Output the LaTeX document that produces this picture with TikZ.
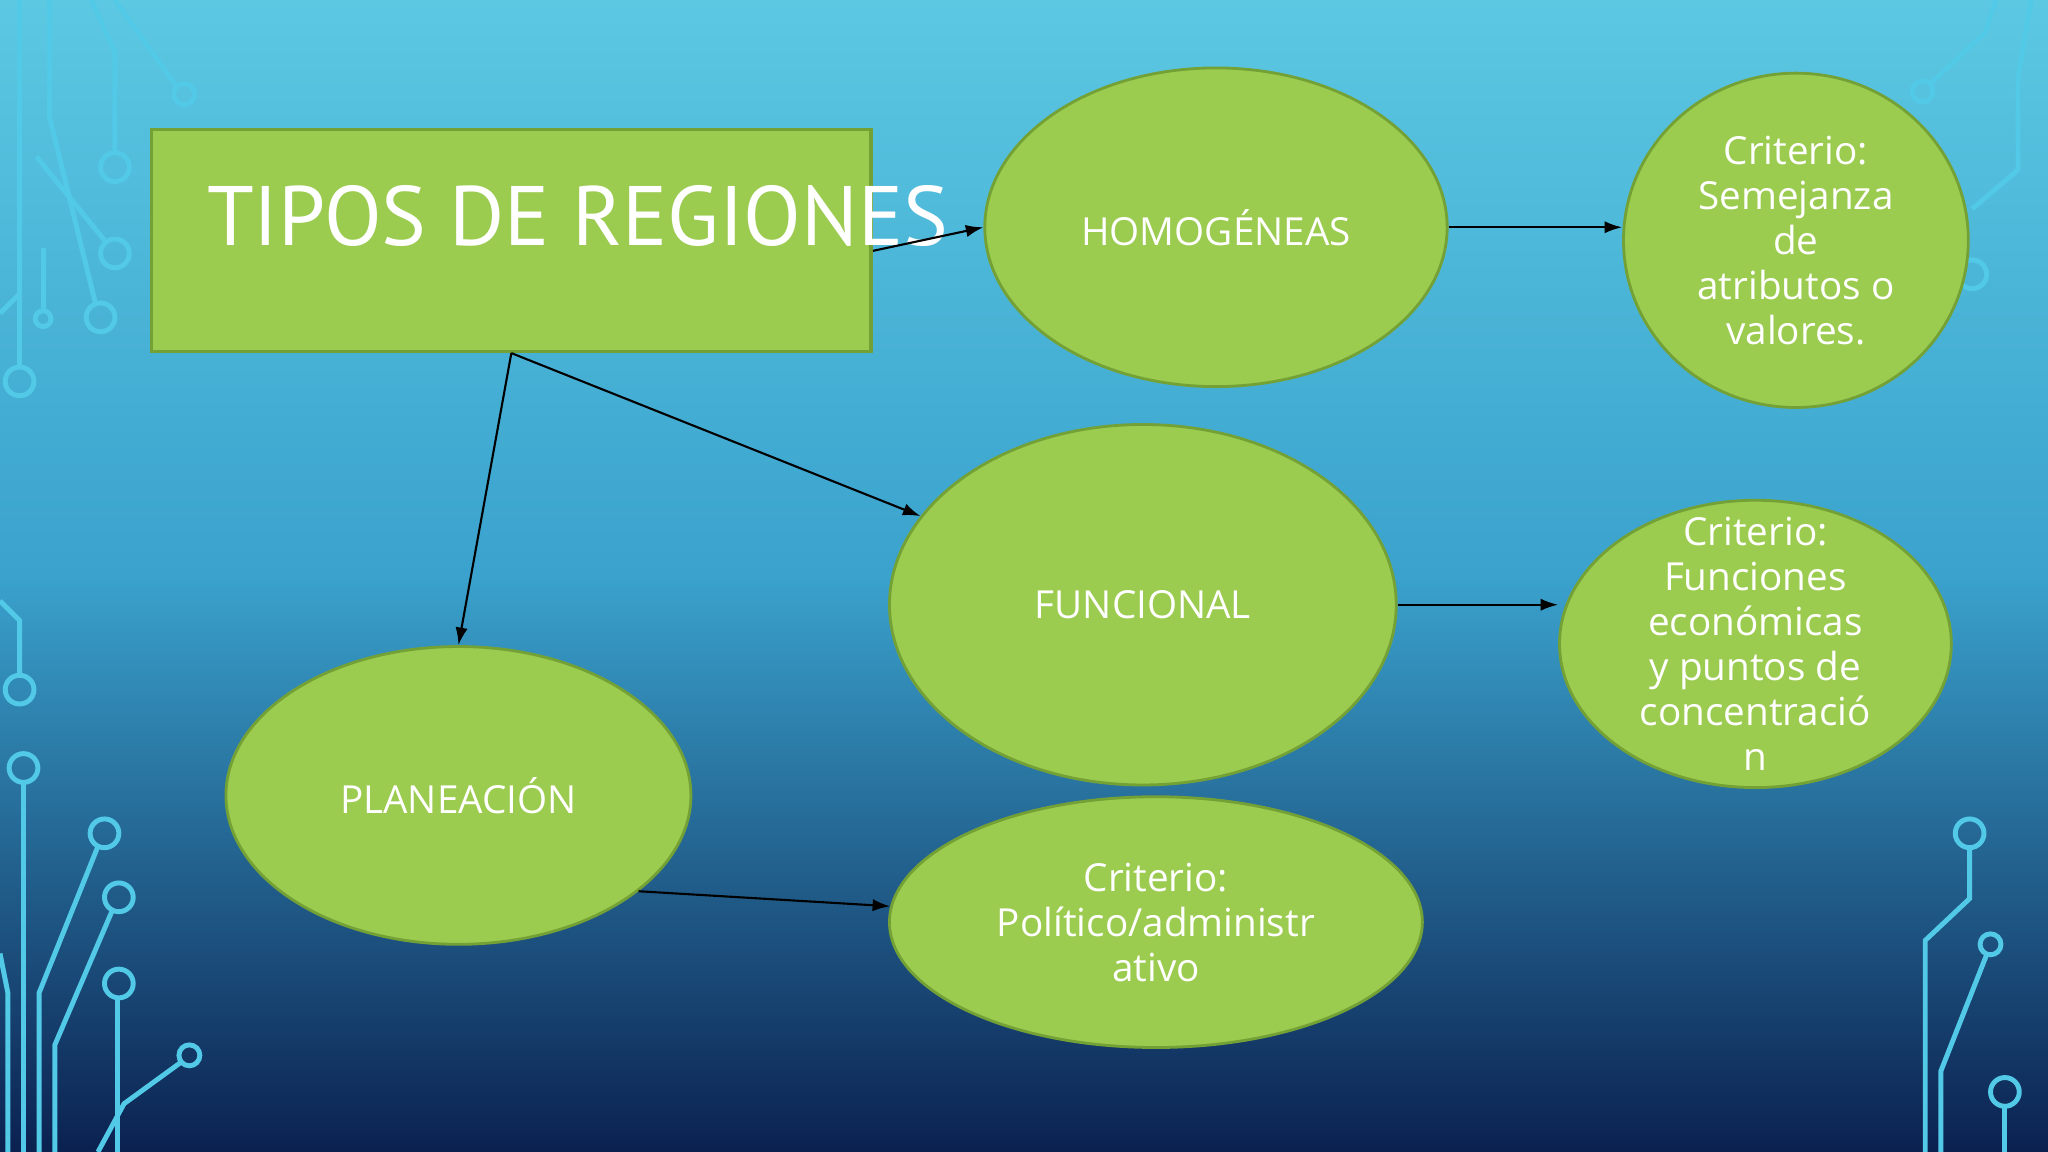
\documentclass[tikz,border=0pt]{standalone}
\usepackage{fontspec}
\setmainfont{Open Sans}
\newfontfamily\titlefont{PT Sans}
\usetikzlibrary{arrows.meta,shapes.geometric}
\definecolor{ngreen}{HTML}{9BCB4F}
\definecolor{nborder}{HTML}{74A135}
\definecolor{bgtop}{HTML}{5CC8E2}
\definecolor{bgmid}{HTML}{3AA2CD}
\definecolor{bgbot}{HTML}{0B2150}
\definecolor{circ}{HTML}{52C9E6}
\begin{document}
\begin{tikzpicture}[x=0.013061cm,y=-0.013061cm,
  blob/.style={ellipse,draw=nborder,line width=0.8pt,fill=ngreen,text=white,inner sep=0pt,align=center,font=\fontsize{11}{12.8}\selectfont},
  conn/.style={-{Latex[length=5pt,width=3.5pt]},line width=0.6pt,black},
  trace/.style={circ,line width=1.4pt},
  dot/.style={circ,line width=1.4pt,fill=none}]
\useasboundingbox (0,0) rectangle (1568,882);
\shade[top color=bgtop,bottom color=bgbot,middle color=bgmid] (0,0) rectangle (1568,882);
% circuit traces left top
\draw[trace] (15,0) -- (15,280); \draw[dot] (15,292) circle (11);
\draw[trace] (38,0) -- (38,90) -- (73,232); \draw[dot] (77,243) circle (11);
\draw[trace] (70,0) -- (88,40) -- (88,117); \draw[dot] (88,128) circle (11);
\draw[trace] (88,0) -- (135,66); \draw[dot] (141,72) circle (8);
\draw[trace] (28,120) -- (80,184); \draw[dot] (88,194) circle (11);
\draw[trace] (0,240) -- (15,225); \draw[trace] (33,190) -- (33,238); \draw[dot] (33,244) circle (6);
% left bottom
\draw[trace] (0,460) -- (15,475) -- (15,517); \draw[dot] (15,528) circle (11);
\draw[trace] (18,599) -- (18,882); \draw[dot] (18,588) circle (11);
\draw[trace] (30,882) -- (30,760) -- (75,648); \draw[dot] (80,638) circle (11);
\draw[trace] (42,882) -- (42,800) -- (86,697); \draw[dot] (91,687) circle (11);
\draw[trace] (90,882) -- (90,764); \draw[dot] (91,753) circle (11);
\draw[trace] (75,882) -- (95,845) -- (139,813); \draw[dot] (145,808) circle (8);
\draw[trace] (0,730) -- (6,760) -- (6,882);
% right top
\draw[trace] (1528,0) -- (1520,25) -- (1478,64); \draw[dot] (1472,70) circle (8);
\draw[trace] (1555,0) -- (1545,60) -- (1545,130) -- (1510,160);
\draw[dot] (1510,210) circle (11);
% right bottom
\draw[trace] (1508,649) -- (1508,688) -- (1474,720) -- (1474,882); \draw[dot] (1508,638) circle (11);
\draw[trace] (1521,731) -- (1486,820) -- (1486,882); \draw[dot] (1524,723) circle (8);
\draw[trace] (1535,847) -- (1535,882); \draw[dot] (1535,836) circle (11);
% nodes
\node[rectangle,draw=nborder,line width=1pt,fill=ngreen,inner sep=0pt,
  minimum width=551*0.013061cm,minimum height=170*0.013061cm] (rect) at (391.5,184) {};
\node[blob,minimum width=354*0.013061cm,minimum height=244*0.013061cm] (homo) at (931,174) {HOMOGÉNEAS};
\node[blob,minimum width=264*0.013061cm,minimum height=256*0.013061cm] (sem) at (1375,184) {Criterio:\\Semejanza\\de\\atributos o\\valores.};
\node[blob,minimum width=388*0.013061cm,minimum height=276*0.013061cm] (func) at (875,463) {FUNCIONAL};
\node[blob,inner sep=-14pt,minimum width=300*0.013061cm,minimum height=220*0.013061cm] (fcrit) at (1344,493) {Criterio:\\Funciones\\económicas\\y puntos de\\concentració\\n};
\node[blob,minimum width=356*0.013061cm,minimum height=228*0.013061cm] (plan) at (351,609) {PLANEACIÓN};
\node[blob,minimum width=408*0.013061cm,minimum height=192*0.013061cm] (pol) at (885,706) {Criterio:\\Político/administr\\ativo};
\node[anchor=base west,text=white,inner sep=0pt,font=\titlefont\fontsize{24}{28}\selectfont] (title) at (158,188) {TIPOS DE REGIONES};
% connectors
\draw[conn] ([yshift=-3pt]rect.east) -- (homo.west);
\draw[conn] (homo.east) -- (homo.east -| sem.west);
\draw[conn] (func.east) -- (func.east -| fcrit.west);
\draw[conn] (rect.south) -- (plan.north);
\draw[conn] (rect.south) -- (func);
\draw[conn] (plan.-28) -- (pol);
\end{tikzpicture}
\end{document}
